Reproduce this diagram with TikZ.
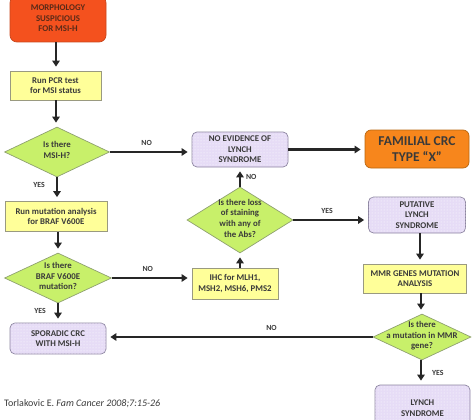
\documentclass[tikz,border=0pt]{standalone}
\usepackage{fontspec}
\setmainfont{Carlito}
\usetikzlibrary{arrows.meta,shapes.geometric,patterns}
\definecolor{txt}{HTML}{3A3A3A}
\definecolor{morphfill}{HTML}{F4511E}
\definecolor{morphline}{HTML}{C8461C}
\definecolor{morphtxt}{HTML}{5A2A18}
\definecolor{famfill}{HTML}{F7861C}
\definecolor{famline}{HTML}{B8660F}
\definecolor{yel}{HTML}{FFFF99}
\definecolor{yelline}{HTML}{9A9A80}
\definecolor{grn}{HTML}{C8F06A}
\definecolor{grnline}{HTML}{8FA070}
\definecolor{lav}{HTML}{E6DCF6}
\definecolor{lavline}{HTML}{8C84A0}
\definecolor{arr}{HTML}{262626}
\newcommand\dtxt[1]{\raisebox{-0.3em}{\smash{\makebox[0pt]{\begin{tabular}{@{}c@{}}#1\end{tabular}}}}}
\tikzset{
  base/.style={font=\bfseries\fontsize{8.8}{10.6}\selectfont, text=txt, align=center, inner sep=0pt, line width=0.7pt},
  ybox/.style={base, rectangle, fill=yel, draw=yelline},
  lbox/.style={base, rectangle, rounded corners=5pt, fill=lav, draw=lavline,
     postaction={pattern=dots, pattern color=white}},
  dia/.style={base, diamond, fill=grn, draw=grnline},
  morphbox/.style={base, rectangle, rounded corners=7pt, fill=morphfill, draw=morphline, text=morphtxt},
  fambox/.style={base, rectangle, rounded corners=6pt, fill=famfill, draw=famline, font=\bfseries\fontsize{13.5}{16}\selectfont},
  arrow/.style={draw=arr, line width=2.2pt, -{Triangle[length=6pt,width=7.5pt]}, shorten >=4pt},
  lbl/.style={font=\bfseries\fontsize{7.8}{9}\selectfont, text=txt, inner sep=0pt},
  cite/.style={font=\fontsize{10}{12}\selectfont, text=txt, inner sep=0pt, anchor=west}
}
\begin{document}
\begin{tikzpicture}[x=1pt,y=-1pt]
\useasboundingbox (0,0) rectangle (474,420);
\clip (0,0) rectangle (474,420);
% nodes
\node[morphbox, minimum width=96pt, minimum height=46pt] (morph) at (58,19) {\raisebox{-2pt}{\begin{tabular}{@{}c@{}}MORPHOLOGY\\SUSPICIOUS\\FOR MSI-H\end{tabular}}};
\node[ybox, minimum width=91pt, minimum height=29pt] (pcr) at (55.5,85.5) {Run PCR test\\for MSI status};
\node[dia, minimum width=105pt, minimum height=50pt] (d1) at (57,152) {\dtxt{Is there\\MSI-H?}};
\node[ybox, minimum width=102pt, minimum height=30pt] (braf) at (56,216.5) {Run mutation analysis\\for BRAF V600E};
\node[dia, minimum width=107pt, minimum height=50pt] (d2) at (58,278) {\dtxt{Is there\\BRAF V600E\\mutation?}};
\node[lbox, minimum width=96pt, minimum height=31pt] (spor) at (58,338.5) {SPORADIC CRC\\WITH MSI-H};
\node[lbox, minimum width=96pt, minimum height=35pt] (noev) at (240,149.5) {NO EVIDENCE OF\\LYNCH\\SYNDROME};
\node[fambox, minimum width=104pt, minimum height=38pt] (fam) at (417,149) {FAMILIAL CRC\\TYPE \char"201C X\char"201D};
\node[dia, minimum width=106pt, minimum height=66pt] (d3) at (240,220) {\dtxt{Is there loss\\of staining\\with any of\\the Abs?}};
\node[ybox, minimum width=86pt, minimum height=31pt] (ihc) at (235,283.5) {IHC for MLH1,\\MSH2, MSH6, PMS2};
\node[lbox, minimum width=97pt, minimum height=36pt] (put) at (417,215) {PUTATIVE\\LYNCH\\SYNDROME};
\node[ybox, minimum width=103pt, minimum height=29pt] (mmr) at (415,278.5) {MMR GENES MUTATION\\ANALYSIS};
\node[dia, minimum width=98pt, minimum height=46pt] (d4) at (422,337) {\dtxt{Is there\\a mutation in MMR\\gene?}};
\node[lbox, minimum width=95pt, minimum height=48pt] (lynch) at (422.5,409) {\raisebox{5pt}{\begin{tabular}{@{}c@{}}LYNCH\\SYNDROME\end{tabular}}};
% connectors
\draw[arrow] (morph.south -| 56,0) -- (56,0 |- pcr.north);
\draw[arrow] (pcr.south -| 56,0) -- (56,0 |- d1.north);
\draw[arrow] (d1.east) -- (d1.east -| noev.west) node[lbl, pos=0.45, above=5pt] {NO};
\draw[arrow] (d1.south) -- (d1.south |- braf.north) node[lbl, pos=0.3, left=11pt] {YES};
\draw[arrow] (braf.south -| d2.north) -- (d2.north);
\draw[arrow] (d2.east) -- (d2.east -| ihc.west) node[lbl, pos=0.45, above=5pt] {NO};
\draw[arrow] (d2.south) -- (d2.south |- spor.north) node[lbl, pos=0.4, left=11pt] {YES};
\draw[arrow] (noev.east) -- (noev.east -| fam.west);
\draw[arrow] (d3.north) -- (noev.south) node[lbl, midway, right=5pt] {NO};
\draw[arrow] (d3.south |- ihc.north) -- (d3.south);
\draw[arrow] (d3.east) -- (d3.east -| put.west) node[lbl, pos=0.45, above=5pt] {YES};
\draw[arrow] (put.south -| 420,0) -- (420,0 |- mmr.north);
\draw[arrow] (mmr.south -| 421,0) -- (421,0 |- d4.north);
\draw[arrow] (d4.west) -- (d4.west -| spor.east) node[lbl, pos=0.38, above=5pt] {NO};
\draw[arrow] (d4.south -| 421,0) -- (421,0 |- lynch.north) node[lbl, midway, right=10pt] {YES};
% citation
\node[cite] (cite) at (4,404) {Torlakovic E. \textit{Fam Cancer 2008;7:15-26}};
\end{tikzpicture}
\end{document}
